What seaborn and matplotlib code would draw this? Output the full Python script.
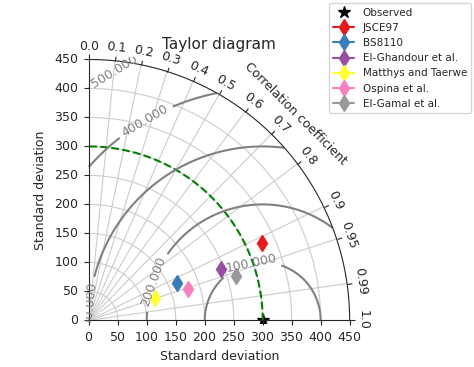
import numpy as np
import matplotlib
matplotlib.use("Agg")
import matplotlib.pyplot as plt
import seaborn as sns
from matplotlib.projections import PolarAxes
import mpl_toolkits.axisartist.floating_axes as FA
import mpl_toolkits.axisartist.grid_finder as GF

# reference (observed) std
ref_std = 300.0

# model results: std and correlation against observed
models = ["JSCE97", "BS8110", "El-Ghandour et al.", "Matthys and Taerwe",
          "Ospina et al.", "El-Gamal et al."]
model_std = [327, 165, 245, 121, 179, 265]
model_corr = [0.913, 0.920, 0.931, 0.947, 0.953, 0.957]

corr_ticks = [0.0, 0.1, 0.2, 0.3, 0.4, 0.5, 0.6, 0.7, 0.8, 0.9, 0.95, 0.99, 1.0]
rms_levels = [100, 200, 300, 400, 500]
# where the contour labels sit (x, y in std units)
label_xy = [(280, 96), (111, 67), (7, 22), (99, 342), (49, 423)]

sns.set_style("white")
plt.rcParams["font.family"] = ["DejaVu Sans"]
plt.rcParams["font.size"] = 9

pal = sns.color_palette("Set1", 9)
colors = [pal[0], pal[1], pal[3], pal[5], pal[7], pal[8]]

fig = plt.figure(figsize=(4.74, 3.67), dpi=100)

tr = PolarAxes.PolarTransform(apply_theta_transforms=False)
tlocs = np.arccos(corr_ticks)
gl1 = GF.FixedLocator(tlocs)
tf1 = GF.DictFormatter(dict(zip(tlocs, map(str, corr_ticks))))
smax = 1.5 * ref_std
ghelper = FA.GridHelperCurveLinear(tr, extremes=(0, np.pi / 2, 0, smax),
                                   grid_locator1=gl1, tick_formatter1=tf1)
ax = FA.FloatingAxes(fig, [0.181, 0.12, 0.563, 0.725], grid_helper=ghelper)
fig.add_axes(ax)

ax.axis["top"].set_axis_direction("bottom")
ax.axis["top"].toggle(ticklabels=True, label=True)
ax.axis["top"].major_ticklabels.set_axis_direction("top")
ax.axis["top"].label.set_axis_direction("top")
ax.axis["top"].label.set_text("Correlation coefficient")

ax.axis["left"].set_axis_direction("bottom")
ax.axis["left"].label.set_text("Standard deviation")

ax.axis["right"].set_axis_direction("top")
ax.axis["right"].toggle(ticklabels=True, label=True)
ax.axis["right"].major_ticklabels.set_axis_direction("left")
ax.axis["right"].label.set_text("Standard deviation")
ax.axis["bottom"].set_visible(False)
ax.axis[:].major_ticks.set_tick_out(True)
ax.grid(True)
ax.set_title("Taylor diagram", fontsize=11)

pax = ax.get_aux_axes(tr)

pax.plot([0], [ref_std], "k*", ls="", ms=9, label="Observed")
t = np.linspace(0, np.pi / 2, 100)
pax.plot(t, np.full_like(t, ref_std), "--", color="green", lw=1.5)

for name, s, c, col in zip(models, model_std, model_corr, colors):
    pax.plot(np.arccos(c), s, marker="d", ms=8, color=col, label=name)

rs, ts = np.meshgrid(np.linspace(0, smax, 200), np.linspace(0, np.pi / 2, 200))
rms = np.sqrt(ref_std ** 2 + rs ** 2 - 2 * ref_std * rs * np.cos(ts))
cs = pax.contour(ts, rs, rms, levels=rms_levels, colors="0.5", linewidths=1.5)
manual = [(np.arctan2(y, x), np.hypot(x, y)) for x, y in label_xy]
cs.clabel(inline=1, fontsize=9, fmt="%.3f", manual=manual)

handles, labels = pax.get_legend_handles_labels()
fig.legend(handles, labels, numpoints=1, fontsize="small", loc="upper right",
           bbox_to_anchor=(1.005, 1.005))

fig.savefig("out.png", dpi=100)
